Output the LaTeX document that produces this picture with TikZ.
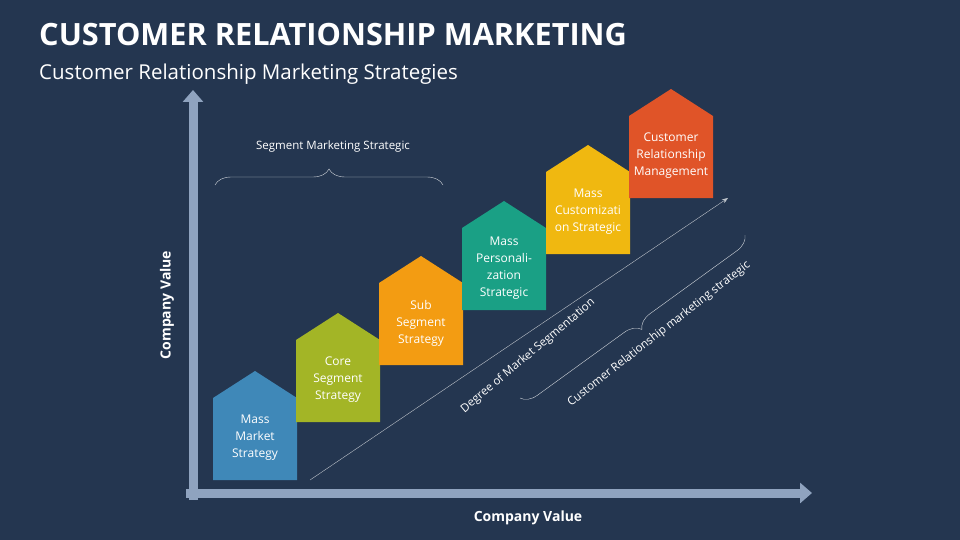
\documentclass[tikz,border=0pt]{standalone}
\usepackage{fontspec}
\setmainfont{Open Sans}
\usetikzlibrary{arrows.meta,decorations.pathreplacing}
\definecolor{bg}{HTML}{243650}
\definecolor{axis}{HTML}{8FA3BF}
\definecolor{c1}{HTML}{3F88B8}
\definecolor{c2}{HTML}{A3B526}
\definecolor{c3}{HTML}{F39C12}
\definecolor{c4}{HTML}{1AA085}
\definecolor{c5}{HTML}{F0B810}
\definecolor{c6}{HTML}{E05428}
\tikzset{
 house/.style={text=white,font=\fontsize{12}{17}\selectfont,align=center,inner sep=0pt},
 lbl/.style={text=white,font=\fontsize{11.5}{14}\selectfont},
 brc/.style={draw=white!80!bg,thin,decorate,decoration={brace,amplitude=16pt}}
}
\newcommand{\house}[5]{% x, apex y, color, name, text
 \fill[#3] (#1,#2+27) -- (#1+42,#2) -- (#1+84,#2+27) -- (#1+84,#2+109) -- (#1,#2+109) -- cycle;
 \node[house] (#4) at (#1+42,#2+67) {#5};
}
\begin{document}
\begin{tikzpicture}[x=1pt,y=-1pt]
\fill[bg] (0,0) rectangle (960,540);
\useasboundingbox (0,0) rectangle (960,540);
\node[anchor=west,text=white,font=\fontsize{30.7}{36}\selectfont\bfseries,inner sep=0pt] (title) at (39,35) {CUSTOMER RELATIONSHIP MARKETING};
\node[anchor=west,text=white,font=\fontsize{20.5}{24}\selectfont,inner sep=0pt] (sub) at (39,74) {Customer Relationship Marketing Strategies};
\coordinate (o) at (193,500);
\coordinate (yt) at (193,90);
\coordinate (xo) at (186,493);
\coordinate (xt) at (812,493);
\draw[axis,line width=9pt,-{Triangle[length=12pt,width=20pt]}] (o) -- (yt);
\draw[axis,line width=9pt,-{Triangle[length=12pt,width=20pt]}] (xo) -- (xt);
\node[text=white,font=\fontsize{14}{17}\selectfont\bfseries] (xl) at (528,518) {Company Value};
\node[text=white,font=\fontsize{14}{17}\selectfont\bfseries,rotate=90] (yl) at (167,305) {Company Value};
\coordinate (d1) at (310,480);
\coordinate (d2) at (728,198);
\draw[white!70!bg,-{Stealth[length=6pt]}] (d1) -- (d2);
\node[lbl,rotate=40,inner sep=0pt] (dl) at (528,356) {Degree of Market Segmentation};
\house{213}{371}{c1}{h1}{Mass\\Market\\Strategy}
\house{296}{313}{c2}{h2}{Core\\Segment\\Strategy}
\house{379}{256}{c3}{h3}{Sub\\Segment\\Strategy}
\house{462}{201}{c4}{h4}{Mass\\Personali-\\zation\\Strategic}
\house{546}{145}{c5}{h5}{Mass\\Customizati\\on Strategic}
\house{629}{89}{c6}{h6}{Customer\\Relationship\\Management}
\coordinate (b1) at (215,185);
\coordinate (b2) at (443,185);
\draw[brc] (b1) -- (b2);
\node[lbl] (bl) at (333,147) {Segment Marketing Strategic};
\coordinate (e1) at (520,398);
\coordinate (e2) at (745,235);
\draw[brc,decoration={mirror}] (e1) -- (e2);
\node[lbl,rotate=38,inner sep=0pt] (el) at (659,334) {Customer Relationship marketing strategic};
\end{tikzpicture}
\end{document}
